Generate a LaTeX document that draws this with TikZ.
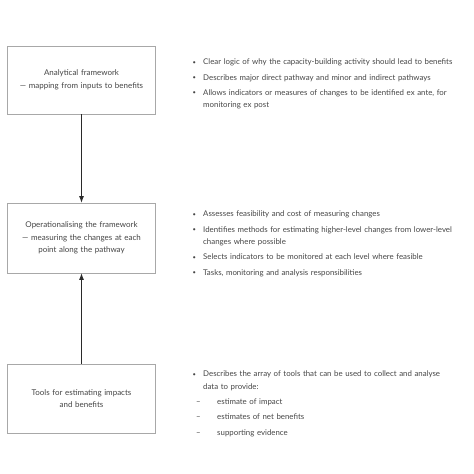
\documentclass[tikz,border=0pt]{standalone}
\usepackage{fontspec}
\setmainfont{Lato}
\usepackage{enumitem}
\usetikzlibrary{arrows.meta,positioning}
\definecolor{stageink}{HTML}{454545}
\definecolor{stageedge}{HTML}{A8A8A8}
\definecolor{stagearrow}{HTML}{2A2A2A}

\newenvironment{stagelist}{%
  \begin{itemize}[leftmargin=0.30cm,labelsep=0.22cm,topsep=0pt,partopsep=0pt,
    parsep=0pt,itemsep=2.6pt,label={\raisebox{0.5pt}{\tiny\textbullet}}]}%
  {\end{itemize}}

\begin{document}
\begin{tikzpicture}[
  stagebox/.style={draw=stageedge,line width=0.6pt,fill=white,
    minimum width=4.35cm,text width=4.2cm,align=center,text=stageink,
    font=\fontsize{6.8}{10.6}\selectfont},
  stagenotes/.style={anchor=north west,inner sep=0pt,text width=7.95cm,
    align=left,text=stageink,font=\fontsize{6.7}{10.6}\selectfont},
  stageflow/.style={-{Latex[length=5.5pt,width=4.2pt]},draw=stagearrow,
    line width=0.7pt}
]
  \useasboundingbox (0,0) rectangle (14.22,14.22);

  \node[stagebox,minimum height=2.04cm] (analysis) at (2.445,11.82)
    {Analytical framework\\--- mapping from inputs to benefits};
  \node[stagebox,minimum height=2.10cm] (operation) at (2.445,7.08)
    {Operationalising the framework\\--- measuring the changes at each\\
     point along the pathway};
  \node[stagebox,minimum height=2.07cm] (tools) at (2.445,2.265)
    {Tools for estimating impacts\\and benefits};

  \draw[stageflow] (analysis) -- (operation);
  \draw[stageflow] (tools) -- (operation);

  \node[stagenotes] (analysisnotes) at (5.79,12.66) {%
    \begin{stagelist}
      \item Clear logic of why the capacity-building activity should lead to benefits
      \item Describes major direct pathway and minor and indirect pathways
      \item Allows indicators or measures of changes to be identified ex ante, for
        monitoring ex post
    \end{stagelist}};
  \node[stagenotes] (operationnotes) at (5.79,8.10) {%
    \begin{stagelist}
      \item Assesses feasibility and cost of measuring changes
      \item Identifies methods for estimating higher-level changes from lower-level
        changes where possible
      \item Selects indicators to be monitored at each level where feasible
      \item Tasks, monitoring and analysis responsibilities
    \end{stagelist}};
  \node[stagenotes] (toolsnotes) at (5.79,3.30) {%
    \begin{stagelist}
      \item Describes the array of tools that can be used to collect and analyse\newline
        data to provide:
      \begin{itemize}[leftmargin=0.42cm,labelwidth=0.15cm,labelsep=0.50cm,
          topsep=2.6pt,parsep=0pt,itemsep=2.6pt,label={--}]
        \item estimate of impact
        \item estimates of net benefits
        \item supporting evidence
      \end{itemize}
    \end{stagelist}};
\end{tikzpicture}
\end{document}
